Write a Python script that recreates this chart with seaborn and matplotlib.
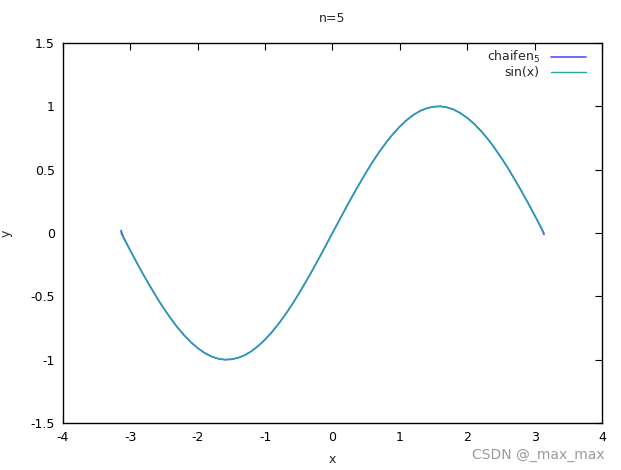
import matplotlib
matplotlib.use("Agg")
import matplotlib.pyplot as plt
import seaborn as sns
import pandas as pd

x_vals = [-3.14, -3.1, -3.0, -2.9, -2.8, -2.7, -2.6, -2.5, -2.4, -2.3, -2.2, -2.1, -2.0, -1.9, -1.8, -1.7,
          -1.6, -1.5, -1.4, -1.3, -1.2, -1.1, -1.0, -0.9, -0.8, -0.7, -0.6, -0.5, -0.4, -0.3, -0.2, -0.1,
          0.0, 0.1, 0.2, 0.3, 0.4, 0.5, 0.6, 0.7, 0.8, 0.9, 1.0, 1.1, 1.2, 1.3, 1.4, 1.5,
          1.6, 1.7, 1.8, 1.9, 2.0, 2.1, 2.2, 2.3, 2.4, 2.5, 2.6, 2.7, 2.8, 2.9, 3.0, 3.1, 3.14]
sin_vals = [0.000, -0.042, -0.141, -0.239, -0.335, -0.427, -0.516, -0.598, -0.675, -0.746, -0.808, -0.863,
            -0.909, -0.946, -0.974, -0.992, -1.000, -0.997, -0.985, -0.964, -0.932, -0.891, -0.841, -0.783,
            -0.717, -0.644, -0.565, -0.479, -0.389, -0.296, -0.199, -0.100,
            0.000, 0.100, 0.199, 0.296, 0.389, 0.479, 0.565, 0.644, 0.717, 0.783, 0.841, 0.891, 0.932,
            0.964, 0.985, 0.997, 1.000, 0.992, 0.974, 0.946, 0.909, 0.863, 0.808, 0.746, 0.675, 0.598,
            0.516, 0.427, 0.335, 0.239, 0.141, 0.042, 0.000]
chaifen_vals = [0.020, -0.035, -0.138, -0.238, -0.335, -0.427, -0.516, -0.598, -0.675, -0.746, -0.808, -0.863,
                -0.909, -0.946, -0.974, -0.992, -1.000, -0.997, -0.985, -0.964, -0.932, -0.891, -0.841, -0.783,
                -0.717, -0.644, -0.565, -0.479, -0.389, -0.296, -0.199, -0.100,
                0.000, 0.100, 0.199, 0.296, 0.389, 0.479, 0.565, 0.644, 0.717, 0.783, 0.841, 0.891, 0.932,
                0.964, 0.985, 0.997, 1.000, 0.992, 0.974, 0.946, 0.909, 0.863, 0.808, 0.746, 0.675, 0.598,
                0.516, 0.427, 0.335, 0.239, 0.140, 0.036, -0.012]
x_ticks = [-4, -3, -2, -1, 0, 1, 2, 3, 4]
y_ticks = [-1.5, -1, -0.5, 0, 0.5, 1, 1.5]
y_tick_labels = ["-1.5", "-1", "-0.5", "0", "0.5", "1", "1.5"]

sns.set_theme(style="white")
plt.rcParams['font.family'] = ['DejaVu Sans']

fig = plt.figure(figsize=(6.21, 4.70), dpi=100)
ax = fig.add_axes([0.1014, 0.1, 0.8680, 0.8085])

df_c = pd.DataFrame({"x": x_vals, "y": chaifen_vals})
df_s = pd.DataFrame({"x": x_vals, "y": sin_vals})
sns.lineplot(data=df_c, x="x", y="y", ax=ax, color="#5050ff", lw=1.2, sort=False,
             estimator=None, label="chaifen$_5$")
sns.lineplot(data=df_s, x="x", y="y", ax=ax, color="#20a8a0", lw=1.0, sort=False,
             estimator=None, label="sin(x)")

ax.set_xlim(-4, 4)
ax.set_ylim(-1.5, 1.5)
ax.set_xticks(x_ticks)
ax.set_xticklabels([str(t) for t in x_ticks])
ax.set_yticks(y_ticks)
ax.set_yticklabels(y_tick_labels)
ax.tick_params(direction="in", length=5, width=0.8, top=True, right=True,
               labelsize=9, colors="black", pad=6)
for s in ax.spines.values():
    s.set_visible(True)
    s.set_color("black")
    s.set_linewidth(1.0)
ax.grid(False)
ax.set_xlabel("x", fontsize=9, labelpad=6)
ax.set_ylabel("y", fontsize=9)
ax.yaxis.set_label_coords(-0.093, 0.5)
ax.set_title("n=5", fontsize=9, pad=15)

leg = ax.legend(loc="upper right", frameon=False, markerfirst=False, fontsize=9,
                handlelength=2.8, bbox_to_anchor=(0.982, 1.0), borderaxespad=0.1,
                labelspacing=0.05, handletextpad=0.9)
for t in leg.get_texts():
    t.set_ha("right")

fig.text(0.974, 0.018, "CSDN @_max_max", ha="right", va="bottom", fontsize=10, color="#9a9a9a")

fig.savefig("out.png", dpi=100)
